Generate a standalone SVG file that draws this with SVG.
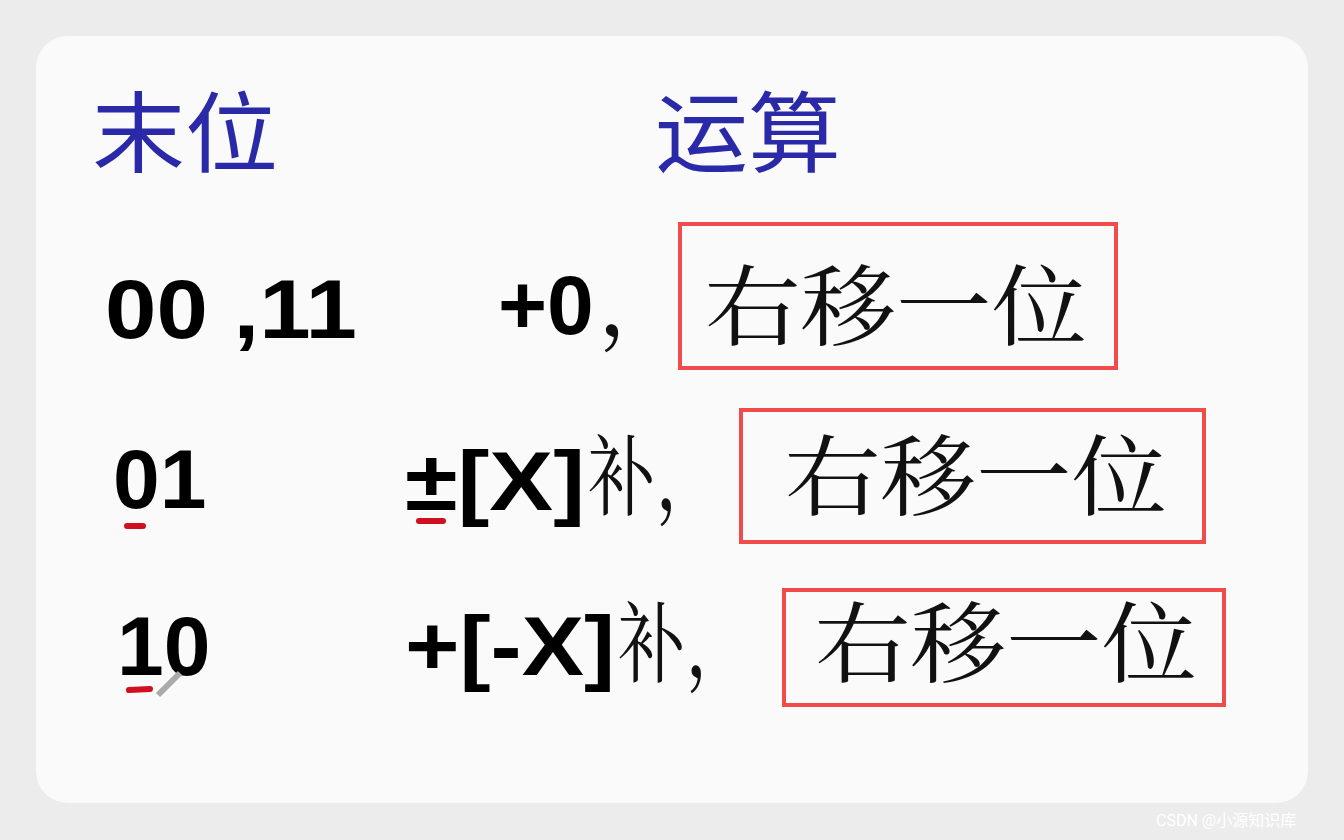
<svg xmlns="http://www.w3.org/2000/svg" width="1344" height="840" viewBox="0 0 1344 840">
<style>
.h{font-family:"Noto Sans CJK SC",sans-serif;font-size:88px;fill:#2a2aa8}
.b{font-family:"Liberation Sans",sans-serif;font-weight:bold;font-size:84px;fill:#000}
.s{font-family:"Liberation Serif","Noto Serif CJK SC","Noto Sans CJK SC",serif;font-size:88px;fill:#111}
.bx{fill:none;stroke:#f04c4c;stroke-width:4}
.m{stroke:#d01020;stroke-width:6;stroke-linecap:round}
</style>
<rect width="1344" height="840" fill="#ececec"/>
<rect x="36" y="36" width="1272" height="767" rx="32" fill="#fafafa"/>
<g id="header"><text class="h" x="92" y="165" textLength="186" lengthAdjust="spacingAndGlyphs">末位</text><text class="h" x="655" y="165" textLength="186" lengthAdjust="spacingAndGlyphs">运算</text></g>
<g id="row1"><text class="b" x="105" y="338" textLength="252" lengthAdjust="spacingAndGlyphs">00 ,11</text><text class="b" x="498" y="334">+0</text><text class="s" x="598" y="334">，</text>
<rect class="bx" x="680" y="224" width="436" height="144"/><text class="s" x="705" y="338" textLength="382" lengthAdjust="spacingAndGlyphs">右移一位</text></g>
<g id="row2"><text class="b" x="113" y="508">01</text><text class="b" x="405" y="510" textLength="180" lengthAdjust="spacingAndGlyphs">±[X]</text><text class="s" x="588" y="508" textLength="135" lengthAdjust="spacingAndGlyphs">补，</text>
<rect class="bx" x="741" y="410" width="463" height="132"/><text class="s" x="785" y="508" textLength="382" lengthAdjust="spacingAndGlyphs">右移一位</text>
<line class="m" x1="127" y1="526" x2="143" y2="526"/><line class="m" x1="419" y1="521" x2="443" y2="521"/></g>
<g id="row3"><text class="b" x="405" y="675" textLength="210" lengthAdjust="spacingAndGlyphs">+[-X]</text><text class="s" x="618" y="675" textLength="135" lengthAdjust="spacingAndGlyphs">补，</text><text class="b" x="117" y="675">10</text>
<rect class="bx" x="784" y="590" width="440" height="115"/><text class="s" x="815" y="675" textLength="382" lengthAdjust="spacingAndGlyphs">右移一位</text>
<line class="m" x1="129" y1="690" x2="150" y2="689"/><line x1="158" y1="695" x2="180" y2="673" stroke="#aaa" stroke-width="6"/></g>
<text x="1156" y="826" font-family="Roboto,'Noto Sans CJK SC',sans-serif" font-size="16" fill="#ffffff">CSDN @小源知识库</text>
</svg>
